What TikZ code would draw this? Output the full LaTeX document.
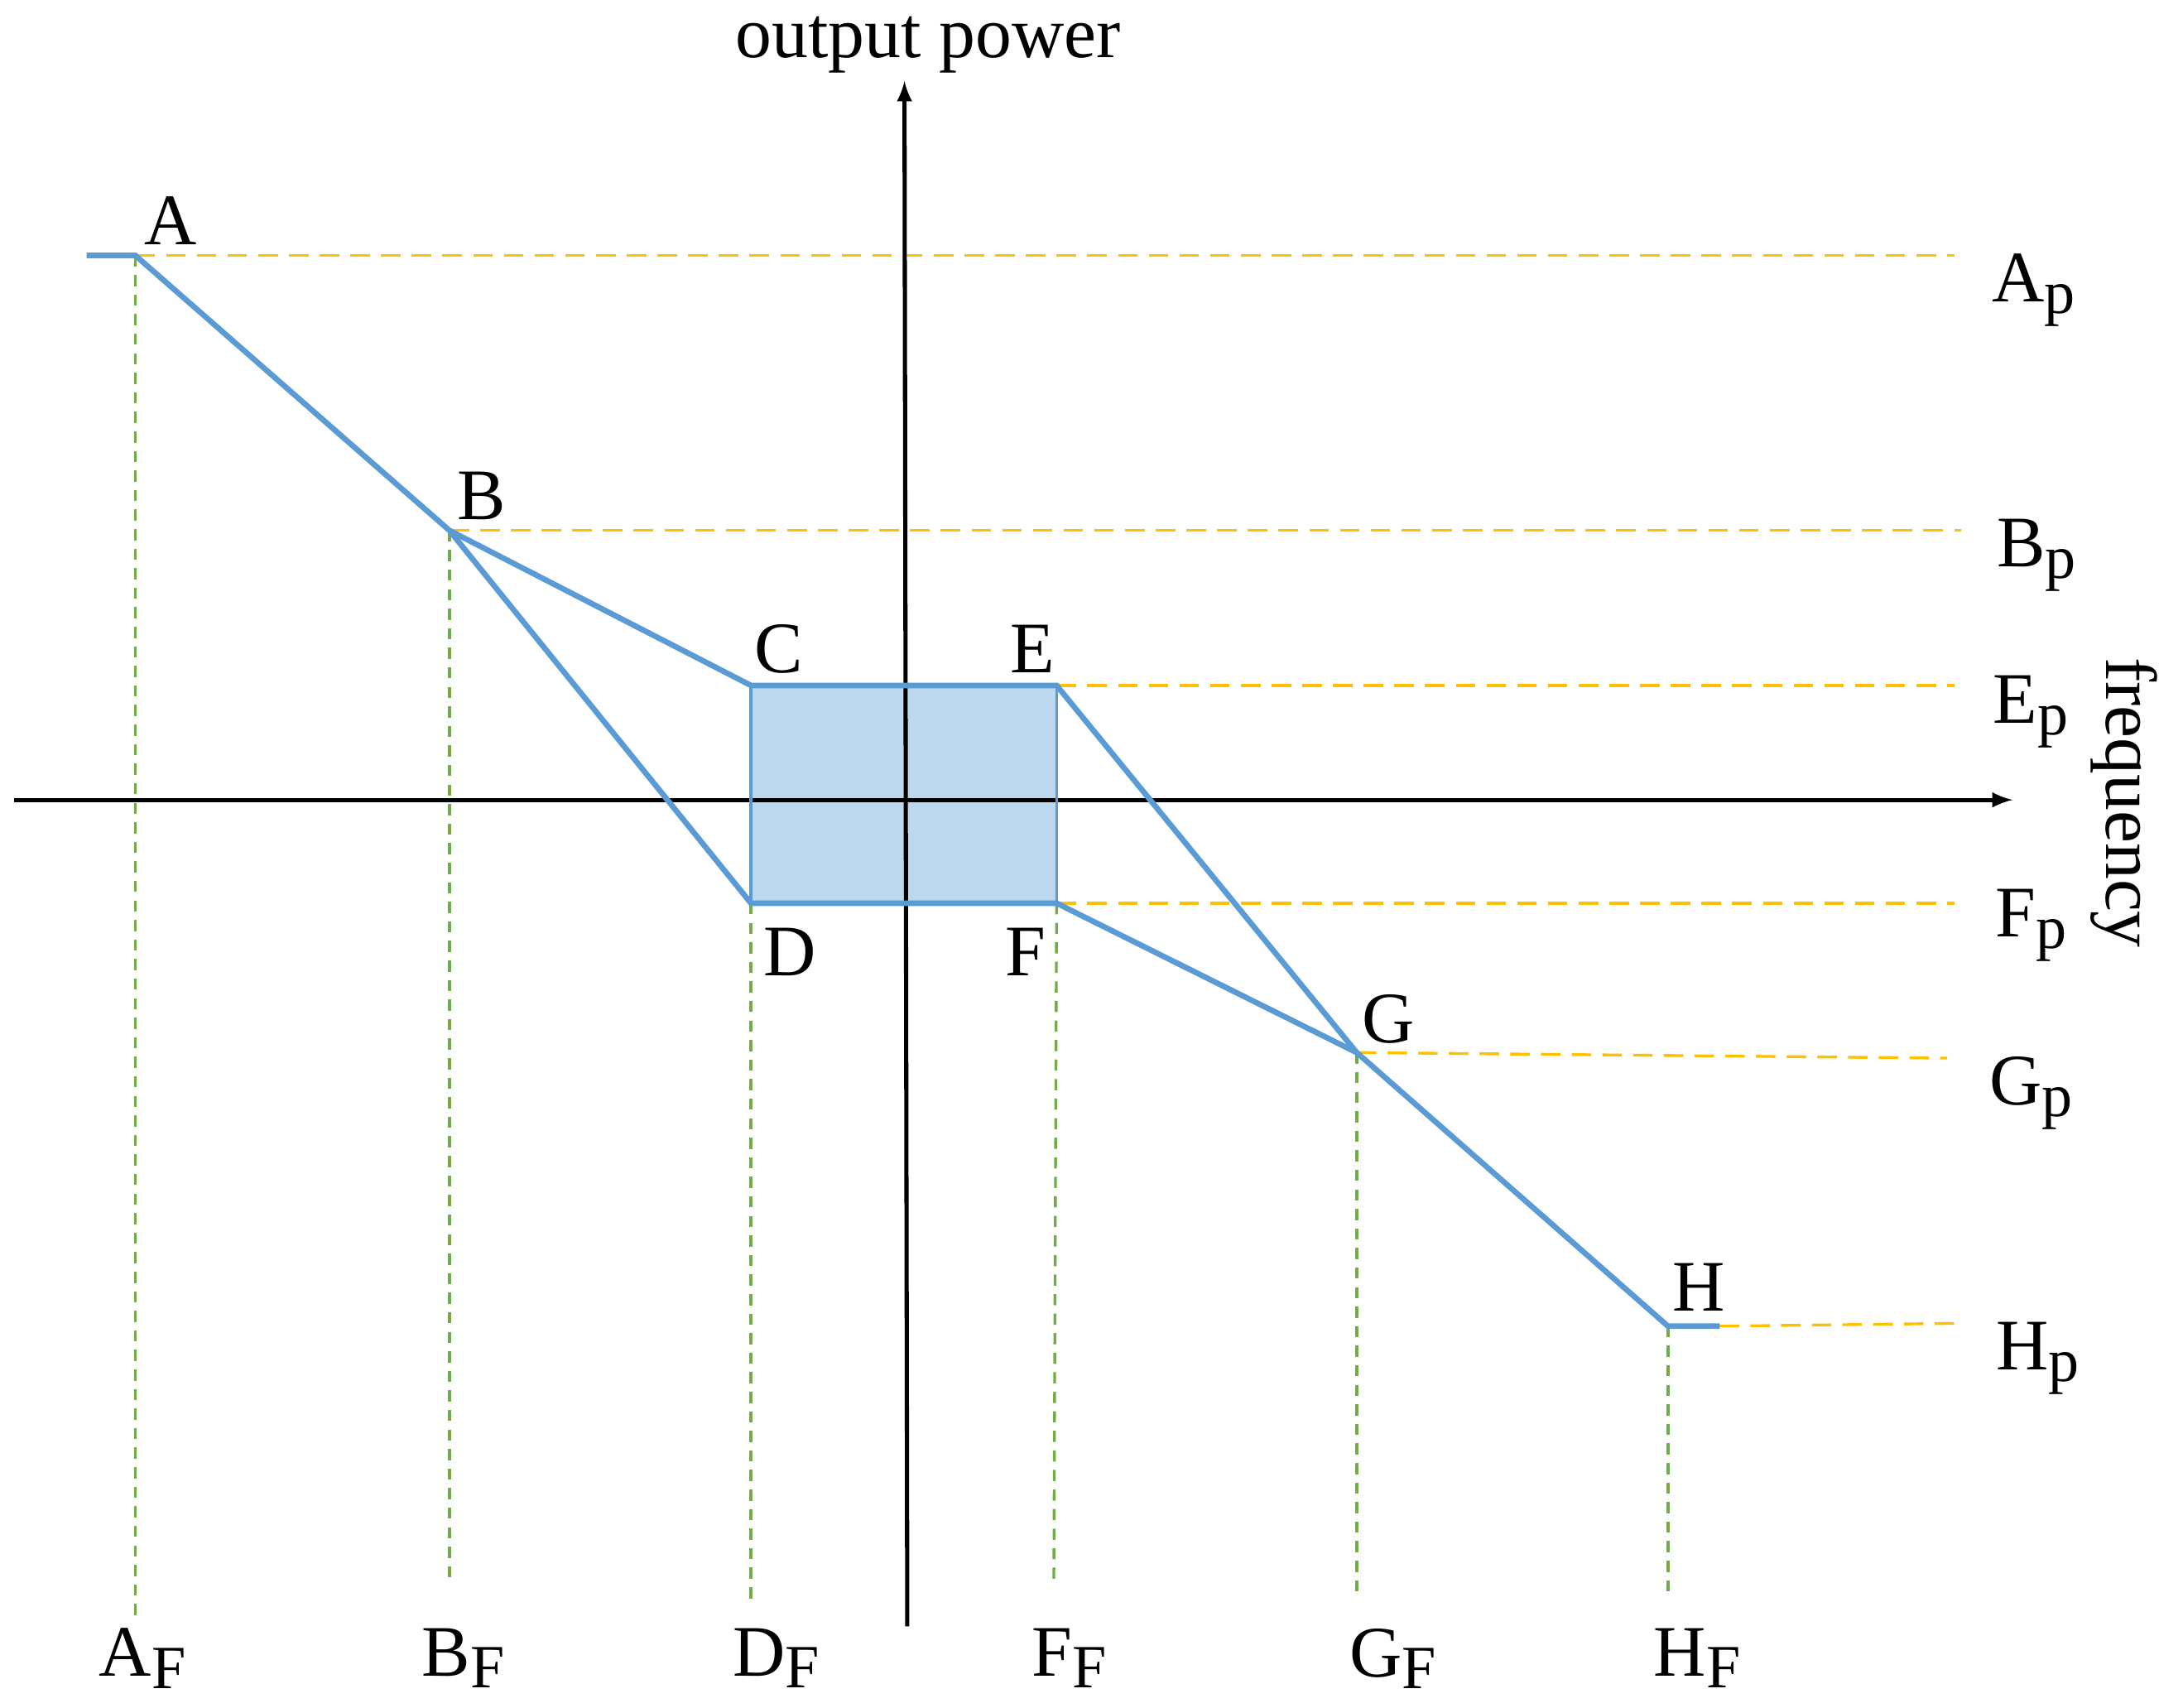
\documentclass[tikz,border=0pt]{standalone}
\usepackage{fontspec}
\setmainfont{Liberation Serif}
\definecolor{cblue}{HTML}{5B9BD5}
\definecolor{cfill}{HTML}{BDD7EE}
\definecolor{cyel}{HTML}{FFC000}
\definecolor{cgrn}{HTML}{70AD47}
\newcommand{\sbs}[1]{\raisebox{-0.35ex}{\fontsize{22}{26}\selectfont #1}}
\begin{document}
\begin{tikzpicture}[x=0.5pt,y=-0.5pt,
  curve/.style={cblue,line width=2pt},
  hd/.style={cyel,line width=1pt,dash pattern=on 7pt off 4pt},
  vd/.style={cgrn,line width=1pt,dash pattern=on 4pt off 3pt},
  ax/.style={line width=1.5pt,-latex},
  lab/.style={font=\fontsize{26}{30}\selectfont,inner sep=0pt}]
\useasboundingbox (0,0) rectangle (1564,1223);
\coordinate (A) at (97,183); \coordinate (A0) at (62,183);
\coordinate (B) at (322,380);
\coordinate (C) at (538,491); \coordinate (E) at (757,491);
\coordinate (D) at (538,647); \coordinate (F) at (757,647);
\coordinate (G) at (972,754);
\coordinate (H) at (1195,950); \coordinate (H0) at (1232,950);
\coordinate (Ae) at (1400,183); \coordinate (Be) at (1405,380);
\coordinate (Ee) at (1400,491); \coordinate (Fe) at (1400,647);
\coordinate (Ge) at (1395,758); \coordinate (He) at (1400,948);
\draw[hd] (A) -- (Ae); \draw[hd] (B) -- (Be); \draw[hd] (E) -- (Ee);
\draw[hd] (F) -- (Fe); \draw[hd] (G) -- (Ge); \draw[hd] (H0) -- (He);
\coordinate (Ab) at (97,1160); \coordinate (Bb) at (322,1135);
\coordinate (Db) at (538,1150); \coordinate (Fb) at (755,1135);
\coordinate (Gb) at (972,1140); \coordinate (Hb) at (1195,1140);
\draw[vd] (A) -- (Ab); \draw[vd] (B) -- (Bb); \draw[vd] (D) -- (Db);
\draw[vd] (F) -- (Fb); \draw[vd] (G) -- (Gb); \draw[vd] (H) -- (Hb);
\fill[cfill] (C) rectangle (F);
\coordinate (xl) at (10,573); \coordinate (xr) at (1442,573);
\coordinate (yb) at (650,1165); \coordinate (yt) at (648,58);
\draw[ax] (xl) -- (xr);
\draw[ax] (yb) -- (yt);
\draw[curve] (A0) -- (A) -- (B) -- (C) -- (E) -- (G) -- (H) -- (H0);
\draw[curve] (B) -- (D) -- (F) -- (G);
\draw[cblue,line width=1pt] (C) -- (D) (E) -- (F);
\node[lab] (tA) at (122,158) {A};
\node[lab] (tB) at (345,355) {B};
\node[lab] (tC) at (558,465) {C};
\node[lab] (tE) at (740,465) {E};
\node[lab] (tD) at (566,682) {D};
\node[lab] (tF) at (735,682) {F};
\node[lab] (tG) at (995,730) {G};
\node[lab] (tH) at (1217,922) {H};
\node[lab] (op) at (665,32) {output power};
\node[lab,rotate=-90] (fr) at (1522,575) {frequency};
\node[lab] (Ap) at (1457,208) {A\sbs{p}};
\node[lab] (Bp) at (1459,398) {B\sbs{p}};
\node[lab] (Ep) at (1455,510) {E\sbs{p}};
\node[lab] (Fp) at (1455,663) {F\sbs{p}};
\node[lab] (Gp) at (1455,783) {G\sbs{p}};
\node[lab] (Hp) at (1460,973) {H\sbs{p}};
\node[lab] (AF) at (102,1188) {A\sbs{F}};
\node[lab] (BF) at (332,1188) {B\sbs{F}};
\node[lab] (DF) at (556,1188) {D\sbs{F}};
\node[lab] (FF) at (766,1188) {F\sbs{F}};
\node[lab] (GF) at (998,1188) {G\sbs{F}};
\node[lab] (HF) at (1216,1188) {H\sbs{F}};
\end{tikzpicture}
\end{document}
